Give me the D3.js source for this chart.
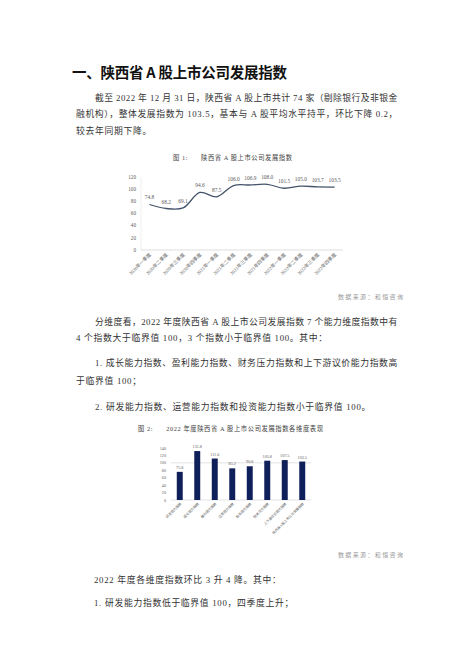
<!DOCTYPE html>
<html>
<head>
<meta charset="utf-8">
<style>
  body { margin: 0; background: #fff; }
  svg text { font-family: "Liberation Serif", "Noto Sans CJK SC", serif; }
</style>
</head>
<body>
<svg id="page" width="474" height="670"></svg>

<script src="https://d3js.org/d3.v7.min.js"></script>
<script>
// chart 1: quarterly index
var quarters = ["2020年一季度", "2020年二季度", "2020年三季度", "2020年四季度",
                "2021年一季度", "2021年二季度", "2021年三季度", "2021年四季度",
                "2022年一季度", "2022年二季度", "2022年三季度", "2022年四季度"];
var quarterValues = [74.8, 68.2, 69.1, 94.6, 87.5, 106.0, 106.9, 108.0, 101.5, 105.0, 103.7, 103.5];
var lineTicks = [0, 20, 40, 60, 80, 100, 120];

// chart 2: dimension index 2022
var dimensions = ["研发能力指数", "成长能力指数", "盈利能力指数", "运营能力指数",
                  "投资能力指数", "财务压力指数", "上下游议价能力指数", "陕西省A股上市公司发展指数"];
var dimensionValues = [75.8, 131.8, 111.6, 85.2, 90.8, 105.8, 107.5, 103.5];
var barTicks = [0, 20, 40, 60, 80, 100, 120, 140];
var criticalValue = 100;

var heading = "一、陕西省 A 股上市公司发展指数";
var chart1Title = "图 1:      陕西省 A 股上市公司发展指数";
var chart2Title = "图 2:      2022 年度陕西省 A 股上市公司发展指数各维度表现";
var sourceText = "数据来源：和恒咨询";

// [text, x, y, justified width or 0]
var lines = [
  ["截至 2022 年 12 月 31 日，陕西省 A 股上市共计 74 家（剔除银行及非银金", 95, 101, 303],
  ["融机构），整体发展指数为 103.5，基本与 A 股平均水平持平，环比下降 0.2，", 76, 117, 322],
  ["较去年同期下降。", 76, 134, 0],
  ["分维度看，2022 年度陕西省 A 股上市公司发展指数 7 个能力维度指数中有", 95, 325, 303],
  ["4 个指数大于临界值 100，3 个指数小于临界值 100。其中：", 76, 341, 0],
  ["1. 成长能力指数、盈利能力指数、财务压力指数和上下游议价能力指数高", 95, 366, 303],
  ["于临界值 100；", 76, 384, 0],
  ["2. 研发能力指数、运营能力指数和投资能力指数小于临界值 100。", 95, 410, 0],
  ["2022 年度各维度指数环比 3 升 4 降。其中：", 94, 583, 0],
  ["1. 研发能力指数低于临界值 100，四季度上升；", 94, 606, 0]
];

var svg = d3.select("#page");

svg.append("text")
    .attr("x", 72)
    .attr("y", 77.5)
    .attr("font-size", 14.5)
    .attr("font-weight", "bold")
    .style("font-family", "'Noto Sans CJK SC', sans-serif")
    .attr("fill", "#111")
    .attr("textLength", 215)
    .attr("lengthAdjust", "spacing")
    .text(heading);

lines.forEach(function (l) {
  var t = svg.append("text")
      .attr("x", l[1])
      .attr("y", l[2])
      .attr("font-size", 8.8)
      .attr("letter-spacing", 0.7)
      .attr("fill", "#333")
      .text(l[0]);
  if (l[3] > 0) t.attr("textLength", l[3]).attr("lengthAdjust", "spacing");
});

svg.append("text")
    .attr("x", 173).attr("y", 159.5)
    .attr("font-size", 6.3).attr("fill", "#444")
    .style("white-space", "pre")
    .attr("textLength", 119).attr("lengthAdjust", "spacing")
    .text(chart1Title);

svg.append("text")
    .attr("x", 138).attr("y", 430.5)
    .attr("font-size", 6.3).attr("fill", "#444")
    .style("white-space", "pre")
    .attr("textLength", 185).attr("lengthAdjust", "spacing")
    .text(chart2Title);

[297, 555].forEach(function (y) {
  svg.append("text")
      .attr("x", 338).attr("y", y + 2)
      .attr("font-size", 6).attr("fill", "#9a9a9a")
      .attr("textLength", 65).attr("lengthAdjust", "spacing")
      .text(sourceText);
});

// ---- chart 1 ----
var x1 = d3.scalePoint().domain(quarters).range([141, 343]).padding(0.5);
var y1 = d3.scaleLinear().domain([0, 120]).range([250, 177]);

var g1 = svg.append("g");

g1.append("line")
    .attr("x1", 141).attr("x2", 141)
    .attr("y1", y1(120)).attr("y2", y1(0))
    .attr("stroke", "#e4e4e4").attr("stroke-width", 0.6);

g1.append("line")
    .attr("x1", 141).attr("x2", 343)
    .attr("y1", y1(0)).attr("y2", y1(0))
    .attr("stroke", "#d0d0d0").attr("stroke-width", 0.7);

g1.selectAll(".ytick")
    .data(lineTicks)
  .enter().append("text")
    .attr("x", 136)
    .attr("y", function (d) { return y1(d) + 1.8; })
    .attr("text-anchor", "end")
    .attr("font-size", 5.2)
    .attr("fill", "#595959")
    .text(function (d) { return d; });

g1.selectAll(".xlab")
    .data(quarters)
  .enter().append("text")
    .attr("transform", function (d) { return "translate(" + (x1(d) + 2) + "," + (y1(0) + 5) + ") rotate(-45)"; })
    .attr("text-anchor", "end")
    .attr("font-size", 4.8)
    .attr("fill", "#595959")
    .text(function (d) { return d; });

var line = d3.line()
    .x(function (d, i) { return x1(quarters[i]); })
    .y(function (d) { return y1(d); })
    .curve(d3.curveCatmullRom.alpha(0.5));

g1.append("path")
    .datum(quarterValues)
    .attr("fill", "none")
    .attr("stroke", "#44546a")
    .attr("stroke-width", 1.3)
    .attr("d", line);

g1.selectAll(".vlab")
    .data(quarterValues)
  .enter().append("text")
    .attr("x", function (d, i) { return x1(quarters[i]); })
    .attr("y", function (d) { return y1(d) - 5; })
    .attr("text-anchor", "middle")
    .attr("font-size", 5.4)
    .attr("fill", "#595959")
    .text(function (d) { return d.toFixed(1); });

// ---- chart 2 ----
var x2 = d3.scaleBand().domain(dimensions).range([171, 311]).paddingInner(0.66).paddingOuter(0.33);
var y2 = d3.scaleLinear().domain([0, 140]).range([500, 448]);

var g2 = svg.append("g");

g2.append("line")
    .attr("x1", 171).attr("x2", 311)
    .attr("y1", y2(criticalValue)).attr("y2", y2(criticalValue))
    .attr("stroke", "#cfcfcf").attr("stroke-width", 0.6);

g2.append("line")
    .attr("x1", 171).attr("x2", 311)
    .attr("y1", y2(0)).attr("y2", y2(0))
    .attr("stroke", "#d0d0d0").attr("stroke-width", 0.6);

g2.selectAll(".ytick")
    .data(barTicks)
  .enter().append("text")
    .attr("x", 166)
    .attr("y", function (d) { return y2(d) + 1.5; })
    .attr("text-anchor", "end")
    .attr("font-size", 4.2)
    .attr("fill", "#595959")
    .text(function (d) { return d; });

g2.selectAll("rect")
    .data(dimensionValues)
  .enter().append("rect")
    .attr("x", function (d, i) { return x2(dimensions[i]); })
    .attr("width", x2.bandwidth())
    .attr("y", function (d) { return y2(d); })
    .attr("height", function (d) { return y2(0) - y2(d); })
    .attr("fill", "#0f1f5a");

g2.selectAll(".vlab")
    .data(dimensionValues)
  .enter().append("text")
    .attr("x", function (d, i) { return x2(dimensions[i]) + x2.bandwidth() / 2; })
    .attr("y", function (d) { return y2(d) - 3; })
    .attr("text-anchor", "middle")
    .attr("font-size", 4.2)
    .attr("fill", "#595959")
    .text(function (d) { return d.toFixed(1); });

g2.selectAll(".xlab")
    .data(dimensions)
  .enter().append("text")
    .attr("transform", function (d) { return "translate(" + (x2(d) + x2.bandwidth() / 2 + 2) + "," + (y2(0) + 4) + ") rotate(-45)"; })
    .attr("text-anchor", "end")
    .attr("font-size", 3.4)
    .attr("fill", "#595959")
    .text(function (d) { return d; });
</script>
</body>
</html>
